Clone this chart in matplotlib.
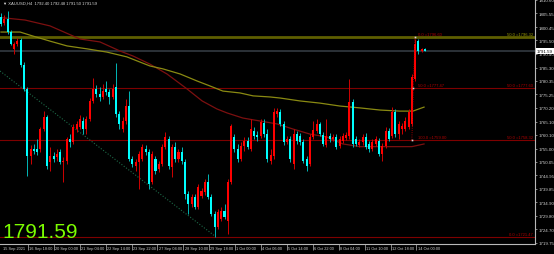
import numpy as np
import matplotlib.pyplot as plt
from matplotlib.transforms import ScaledTranslation, blended_transform_factory

plt.rcParams['font.family'] = ['Liberation Sans', 'DejaVu Sans']

# XAUUSD H4 candles
opens = [
    1804.2, 1802.0, 1803.5, 1798.6, 1792.3, 1794.1, 1795.6, 1786.3, 1777.3, 1752.2,
    1754.8, 1754.8, 1754.8, 1762.3, 1766.8, 1749.9, 1752.2, 1751.8, 1753.7, 1749.9,
    1750.3, 1758.6, 1757.4, 1762.3, 1763.1, 1765.3, 1762.3, 1766.0, 1772.8, 1777.3,
    1775.4, 1774.3, 1777.3, 1776.2, 1774.3, 1778.0, 1767.9, 1762.3, 1765.3, 1770.9,
    1751.1, 1748.5, 1750.0, 1751.1, 1754.8, 1753.7, 1742.5, 1751.1, 1747.3, 1749.2,
    1755.6, 1758.6, 1748.1, 1755.6, 1751.1, 1753.7, 1749.9, 1738.0, 1734.2, 1736.8,
    1733.1, 1737.2, 1738.7, 1742.5, 1736.8, 1730.5, 1725.6, 1728.6, 1731.6, 1727.9,
    1742.5, 1759.3, 1754.8, 1751.1, 1755.9, 1757.8, 1754.8, 1761.6, 1760.1, 1759.7,
    1764.5, 1760.4, 1750.3, 1752.2, 1767.9, 1768.7, 1764.2, 1757.4, 1758.6, 1749.2,
    1760.4, 1759.7, 1757.4, 1751.1, 1749.2, 1759.3, 1761.6, 1764.2, 1760.1, 1756.3,
    1759.7, 1758.6, 1759.3, 1755.9, 1757.8, 1758.9, 1759.7, 1772.4, 1758.6, 1756.3,
    1757.4, 1759.3, 1756.7, 1754.8, 1756.7, 1757.8, 1752.9, 1755.9, 1761.6, 1759.7,
    1768.7, 1760.4, 1762.3, 1762.3, 1763.1, 1764.2, 1781.0, 1795.3, 1791.5, 1792.40]
highs = [
    1805.7, 1805.0, 1806.5, 1799.4, 1794.9, 1796.4, 1796.4, 1787.4, 1778.0, 1756.3,
    1756.7, 1758.6, 1763.1, 1769.0, 1767.5, 1755.6, 1753.7, 1754.8, 1754.8, 1751.8,
    1759.3, 1760.4, 1764.2, 1765.3, 1767.5, 1766.8, 1767.2, 1773.9, 1781.4, 1778.8,
    1778.0, 1779.2, 1780.3, 1777.3, 1779.2, 1787.0, 1769.0, 1766.8, 1773.5, 1776.5,
    1752.2, 1751.1, 1754.1, 1756.7, 1756.3, 1754.8, 1754.1, 1752.2, 1750.3, 1756.7,
    1761.2, 1759.7, 1756.7, 1757.4, 1754.8, 1755.6, 1751.1, 1739.1, 1738.0, 1738.0,
    1741.7, 1740.2, 1743.6, 1745.5, 1738.0, 1731.6, 1732.4, 1733.1, 1734.2, 1743.6,
    1764.2, 1760.4, 1756.7, 1757.4, 1759.3, 1759.3, 1766.0, 1763.1, 1761.6, 1766.0,
    1766.0, 1762.3, 1754.8, 1770.2, 1770.2, 1769.8, 1765.3, 1759.7, 1759.7, 1762.3,
    1761.6, 1760.8, 1758.6, 1752.2, 1760.4, 1765.3, 1766.0, 1764.9, 1761.2, 1766.0,
    1760.8, 1760.4, 1760.4, 1759.7, 1760.8, 1761.2, 1781.0, 1773.5, 1759.7, 1758.6,
    1760.4, 1760.8, 1757.8, 1758.6, 1759.7, 1758.9, 1757.1, 1763.1, 1762.7, 1770.5,
    1769.8, 1765.3, 1764.5, 1766.8, 1769.8, 1782.9, 1796.0, 1796.0, 1792.6, 1792.48]
lows = [
    1800.9, 1801.2, 1797.9, 1793.8, 1790.4, 1793.4, 1785.5, 1776.5, 1744.7, 1749.2,
    1752.9, 1752.6, 1753.7, 1761.6, 1747.3, 1746.6, 1749.9, 1750.3, 1749.2, 1742.5,
    1749.2, 1755.6, 1756.7, 1761.2, 1762.3, 1760.4, 1760.4, 1765.3, 1772.0, 1774.3,
    1772.8, 1773.5, 1775.0, 1771.7, 1773.5, 1766.8, 1762.3, 1761.2, 1764.2, 1750.3,
    1748.1, 1746.6, 1739.8, 1750.3, 1752.6, 1739.8, 1741.7, 1745.5, 1746.2, 1748.5,
    1754.8, 1747.3, 1744.3, 1749.9, 1749.9, 1749.2, 1736.1, 1730.5, 1733.1, 1732.4,
    1732.4, 1736.5, 1737.6, 1736.1, 1729.7, 1721.9, 1724.9, 1727.9, 1728.6, 1723.0,
    1741.7, 1753.7, 1749.9, 1750.3, 1754.1, 1754.8, 1754.1, 1758.6, 1757.8, 1758.9,
    1759.3, 1749.9, 1749.2, 1751.1, 1766.8, 1763.4, 1756.3, 1756.7, 1750.0, 1747.3,
    1756.7, 1756.3, 1749.6, 1746.6, 1748.5, 1758.6, 1760.8, 1759.7, 1755.9, 1755.6,
    1757.4, 1757.8, 1754.8, 1755.2, 1757.1, 1758.2, 1758.6, 1755.6, 1755.9, 1755.6,
    1756.3, 1754.8, 1753.7, 1754.1, 1755.9, 1752.2, 1750.3, 1755.2, 1757.8, 1758.9,
    1759.3, 1758.6, 1760.4, 1761.6, 1762.3, 1763.4, 1780.3, 1790.4, 1791.1, 1791.50]
closes = [
    1801.6, 1803.5, 1798.6, 1794.1, 1794.1, 1795.3, 1786.3, 1777.3, 1752.2, 1754.8,
    1754.1, 1753.7, 1762.3, 1766.8, 1748.5, 1752.2, 1751.1, 1752.9, 1749.9, 1750.3,
    1758.6, 1757.4, 1763.1, 1764.2, 1766.0, 1762.3, 1766.0, 1772.8, 1777.3, 1775.4,
    1774.3, 1776.5, 1776.2, 1774.3, 1777.3, 1767.9, 1764.2, 1765.3, 1770.9, 1751.1,
    1749.2, 1750.0, 1752.9, 1755.6, 1753.7, 1741.7, 1752.9, 1746.6, 1749.2, 1755.6,
    1759.3, 1748.5, 1755.6, 1751.1, 1753.7, 1750.3, 1738.0, 1734.2, 1736.8, 1733.1,
    1740.6, 1739.1, 1742.5, 1736.8, 1730.5, 1725.6, 1731.2, 1731.6, 1729.4, 1742.5,
    1763.4, 1754.8, 1751.1, 1755.9, 1757.8, 1755.6, 1762.3, 1759.7, 1759.3, 1764.9,
    1760.4, 1751.1, 1752.6, 1768.7, 1769.0, 1764.2, 1757.4, 1758.6, 1751.1, 1760.4,
    1757.8, 1757.4, 1750.3, 1748.5, 1759.3, 1761.9, 1764.2, 1760.4, 1756.7, 1759.7,
    1758.6, 1759.3, 1755.6, 1758.6, 1759.7, 1760.1, 1772.4, 1756.7, 1756.7, 1757.4,
    1759.3, 1755.6, 1754.8, 1757.4, 1758.6, 1752.9, 1755.9, 1761.6, 1758.6, 1768.7,
    1760.4, 1764.2, 1763.4, 1765.3, 1768.7, 1781.8, 1794.1, 1791.5, 1792.3, 1791.59]

# moving averages (bar index, price)
ma_red_x = [0, 7.3, 14.9, 24, 30.1, 36.2, 40.2, 45.3, 50.5, 56.6, 61.2, 65.7, 68.8,
            73.6, 78.8, 84, 88.8, 94, 99.2, 104, 109.2, 125, 128.7]
ma_red_y = [1804.0, 1803.1, 1800.9, 1796.0, 1794.9, 1791.5, 1789.6, 1786.6, 1782.9,
            1777.3, 1772.8, 1769.8, 1768.3, 1766.4, 1765.3, 1764.2, 1762.3, 1760.4,
            1759.3, 1756.7, 1755.7, 1755.7, 1756.7]
ma_olive_x = [0, 5.8, 9.7, 14.9, 20.1, 26.2, 32.2, 38.3, 45.3, 49.3, 54.5, 59.6, 63.6,
              67.5, 72.7, 76.7, 81.8, 84.9, 91, 97, 103.1, 109.2, 115.3, 121.4, 125.3, 128.7]
ma_olive_y = [1798.6, 1798.6, 1797.1, 1795.2, 1793.4, 1792.3, 1791.1, 1789.3, 1785.9,
              1784.8, 1782.9, 1780.3, 1778.4, 1776.5, 1775.8, 1774.7, 1774.3, 1773.9,
              1772.8, 1772.0, 1770.9, 1770.2, 1769.4, 1769.0, 1769.0, 1770.5]

# trend line and fibo
trend_x = [-0.3, 65.1]
trend_y = [1784.0, 1722.2]
fib_diag_x = [125.0, 125.9]
fib_diag_y = [1758.3, 1796.6]
fib_levels = [1796.56, 1777.65, 1758.3, 1721.75]
fib_colors = ['#5e5e00', '#7e0000', '#7e0000', '#7e0000']
fib_right_labels = ['50.0 =1796.32', '50.0 =1777.60', '50.0 =1758.32', '0.0 =1721.47']
fib_near_labels = ['0.0 =1796.60', '50.0 =1777.47', '100.0 =1759.00']
fib_near_prices = [1796.56, 1777.65, 1758.3]

last_price = 1791.59
price_ticks = [1810.60, 1805.55, 1800.45, 1795.50, 1790.40, 1785.30, 1780.35, 1775.25,
               1770.20, 1765.10, 1760.10, 1755.00, 1750.05, 1744.95, 1739.85, 1734.90,
               1729.80, 1724.70, 1719.75]
date_labels = ['15 Sep 2021', '16 Sep 18:00', '20 Sep 00:00', '21 Sep 04:00', '22 Sep 14:00',
               '23 Sep 22:00', '27 Sep 04:00', '28 Sep 10:00', '29 Sep 18:00', '1 Oct 00:00',
               '4 Oct 06:00', '5 Oct 14:00', '6 Oct 22:00', '8 Oct 04:00', '11 Oct 10:00',
               '12 Oct 18:00', '14 Oct 00:00']

fig = plt.figure(figsize=(5.54, 2.55), dpi=100, facecolor='black')
ax = fig.add_axes([0, 10 / 255, 535 / 554, 245 / 255])
ax.set_facecolor('black')

o = np.array(opens)
h = np.array(highs)
l = np.array(lows)
c = np.array(closes)
idx = np.arange(len(c))
up = c >= o

# fibo lines behind candles
for lev, col in zip(fib_levels, fib_colors):
    ax.axhline(lev, color=col, lw=2.0 if col == '#5e5e00' else 0.8, zorder=1)
ax.axhline(last_price, color='#333a42', lw=1.2, zorder=1)

ax.plot(trend_x, trend_y, color='#1d6a48', lw=0.8, ls=(0, (1, 1.6)), zorder=2)
ax.plot(ma_red_x, ma_red_y, color='#7c1010', lw=0.9, zorder=2)
ax.plot(ma_olive_x, ma_olive_y, color='#8a8a12', lw=0.9, zorder=2)

wick_col = np.where(up, '#d00000', '#00b8b8')
body_col = np.where(up, '#ff0000', '#00ffff')
ax.vlines(idx, l, h, colors=wick_col, lw=0.7, zorder=3)
ax.bar(idx, np.maximum(np.abs(c - o), 0.35), bottom=np.minimum(o, c), width=0.62,
       color=body_col, lw=0, zorder=4)

ax.plot(fib_diag_x, fib_diag_y, color='#d00000', lw=0.6, ls=':', zorder=5)
ax.plot([fib_diag_x[1], fib_diag_x[0] + 0.3, fib_diag_x[0]],
        [fib_diag_y[1], fib_near_prices[1], fib_diag_y[0]],
        ls='none', marker='s', ms=1.2, mfc='#d8d8d8', mec='none', zorder=6)

ax.set_xlim(-0.304, 162.46)
ax.set_ylim(1719.25, 1810.97)

# labels on the fibo lines
for lev, col, txt in zip(fib_levels, fib_colors, fib_right_labels):
    ax.text(161.8, lev + 0.4, txt, color='#9a9a00' if col == '#5e5e00' else '#b00000',
            fontsize=3.0, ha='right', va='bottom', zorder=6)
for lev, txt in zip(fib_near_prices, fib_near_labels):
    ax.text(127.0, lev + 0.4, txt, color='#b00000', fontsize=3.0, ha='left', va='bottom', zorder=6)

# axes frame
for s in ['left', 'top']:
    ax.spines[s].set_visible(False)
for s in ['right', 'bottom']:
    ax.spines[s].set_color('#b8b8b8')
    ax.spines[s].set_linewidth(0.8)

ax.yaxis.tick_right()
ax.set_yticks(price_ticks)
ax.set_yticklabels(['%.2f' % p for p in price_ticks])
ax.tick_params(axis='y', colors='#b8b8b8', labelcolor='#d0d0d0', labelsize=3.2,
               length=1.5, width=0.5, pad=1)

tick_pos = [8.2 + 7.88 * k for k in range(len(date_labels) - 1)]
ax.set_xticks(tick_pos)
ax.set_xticklabels(date_labels[1:])
ax.set_xticks([0.3], minor=True)
ax.set_xticklabels(date_labels[:1], minor=True)
ax.tick_params(axis='x', which='major', colors='#b8b8b8', labelcolor='#d0d0d0',
               labelsize=2.75, length=4.3, width=0.5, pad=-3.0)
ax.tick_params(axis='x', which='minor', labelcolor='#d0d0d0', labelsize=2.75,
               length=0, pad=1.3)
shift = ScaledTranslation(1.2 / 100, 0, fig.dpi_scale_trans)
for lab in ax.get_xticklabels() + ax.get_xticklabels(minor=True):
    lab.set_ha('left')
    lab.set_transform(lab.get_transform() + shift)

# current price box on the price scale
bt = blended_transform_factory(ax.transAxes, ax.transData)
ax.text(1.004, last_price, '%.2f' % last_price, transform=bt, fontsize=3.2, color='black',
        ha='left', va='center', clip_on=False, zorder=10,
        bbox=dict(fc='white', ec='none', pad=0.8))

fig.text(3 / 554, 1 - 4 / 255, '\u25bc XAUUSD,H4  1792.40 1792.48 1791.50 1791.59',
         fontsize=3.0, color='#d8d8d8', va='center', ha='left')
fig.text(2 / 554, 17 / 255, '%.2f' % last_price, fontsize=15, color='#7CFC00',
         va='baseline', ha='left')

fig.savefig('out.png', dpi=100, facecolor='black')
